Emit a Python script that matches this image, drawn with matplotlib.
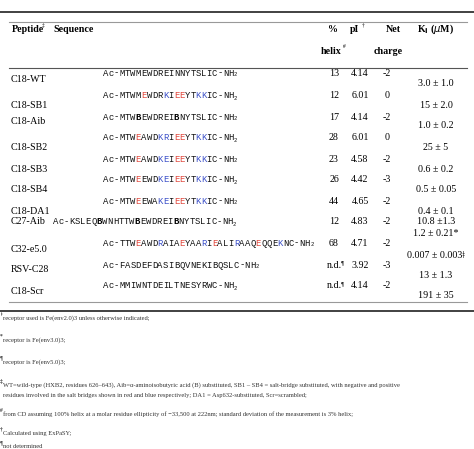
import matplotlib
matplotlib.use("Agg")
import matplotlib.pyplot as plt

peptides = ["C18-WT", "C18-SB1", "C18-Aib", "C18-SB2", "C18-SB3", "C18-SB4",
            "C18-DA1", "C27-Aib", "C32-e5.0", "RSV-C28", "C18-Scr"]
peptide_y = [79, 106, 121, 147, 169, 190, 211, 222, 249, 270, 291]
# [x]=red, {x}=blue, <x>=bold
sequences = [
    "Ac-MTWMEWDREINNYTSLIC-NH",
    "Ac-MTWM[E]WDR{K}I[EE]YT{KK}IC-NH",
    "Ac-MTW<B>EWDREI<B>NYTSLIC-NH",
    "Ac-MTW[E]AWD{KR}I[EE]YT{KK}IC-NH",
    "Ac-MTW[E]AWD{KE}I[EE]YT{KK}IC-NH",
    "Ac-MTW[E]EWD{KE}I[EE]YT{KK}IC-NH",
    "Ac-MTW[E]EWA{KE}I[EE]YT{KK}IC-NH",
    "Ac-KSLEQ<B>WNHTTW<B>EWDREI<B>NYTSLIC-NH",
    "Ac-TTW[E]AWD{R}AIA[E]YAA{R}I[E]ALI{R}AAQ[E]QQE{K}NC-NH",
    "Ac-FASDEFDASIBQVNEKIBQSLC-NH",
    "Ac-MMIWNTDEILTNESYRWC-NH",
]
seq_x = [103, 103, 103, 103, 103, 103, 103, 53, 103, 103, 103]
seq_y = [73, 96, 117, 138, 159, 180, 201, 222, 243, 265, 286]
helix = ["13", "12", "17", "28", "23", "26", "44", "12", "68", "n.d.", "n.d."]
pI = ["4.14", "6.01", "4.14", "6.01", "4.58", "4.42", "4.65", "4.83", "4.71", "3.92", "4.14"]
charge = ["-2", "0", "-2", "0", "-2", "-3", "-2", "-2", "-2", "-3", "-2"]
ki = ["3.0 ± 1.0", "15 ± 2.0", "1.0 ± 0.2", "25 ± 5", "0.6 ± 0.2", "0.5 ± 0.05",
      "0.4 ± 0.1", "10.8 ±1.3", "1.2 ± 0.21*", "0.007 ± 0.003ǂ", "13 ± 1.3", "191 ± 35"]
ki_y = [83, 105, 126, 147, 169, 190, 211, 222, 233, 255, 276, 296]
footnotes = [
    (318, "receptor used is Fe(env2.0)3 unless otherwise indicated;"),
    (340, "receptor is Fe(env3.0)3;"),
    (362, "receptor is Fe(env5.0)3;"),
    (385, "WT=wild-type (HXB2, residues 626–643), Aib=α-aminoisobutyric acid (B) substituted, SB1 – SB4 = salt-bridge substituted, with negative and positive"),
    (396, "residues involved in the salt bridges shown in red and blue respectively; DA1 = Asp632-substituted, Scr=scrambled;"),
    (414, "from CD assuming 100% helix at a molar residue ellipticity of −33,500 at 222nm; standard deviation of the measurement is 3% helix;"),
    (434, "Calculated using ExPaSY;"),
    (447, "not determined"),
]
foot_marks = ["ǂ", "*", "¶", "‡", "", "#", "†", "¶"]

fig = plt.figure(figsize=(4.74, 4.49), dpi=100)
ax = fig.add_axes([0, 0, 1, 1])
ax.set_xlim(0, 474); ax.set_ylim(449, 0); ax.axis("off")

serif = "Liberation Serif"
mono = "Liberation Mono"
fs = 7.2

ax.plot([0, 474], [12, 12], color="#333", lw=1.3)
ax.plot([9, 467], [22, 22], color="#999", lw=0.8)
ax.plot([9, 467], [68, 68], color="#555", lw=0.8)
ax.plot([9, 467], [302, 302], color="#999", lw=0.8)
ax.plot([0, 474], [311, 311], color="#333", lw=1.3)

hk = dict(fontfamily=serif, fontsize=fs, fontweight="bold", va="center")
ax.text(12, 29, "Peptide", ha="left", **hk)
ax.text(41.5, 26, "‡", fontfamily=serif, fontsize=4, va="center")
ax.text(53, 29, "Sequence", ha="left", **hk)
ax.text(333, 29, "%", ha="center", **hk)
ax.text(331, 51, "helix", ha="center", **hk)
ax.text(343, 47, "#", fontfamily=serif, fontsize=4, va="center")
ax.text(355, 29, "pI", ha="center", **hk)
ax.text(362, 26, "†", fontfamily=serif, fontsize=4, va="center")
ax.text(393, 29, "Net", ha="center", **hk)
ax.text(388, 51, "charge", ha="center", **hk)
ax.text(436, 29, "K$_\\mathbf{i}$ ($\\mu$M)", ha="center", **hk)

for name, y in zip(peptides, peptide_y):
    ax.text(11, y, name, fontfamily=serif, fontsize=fs, va="center")

cw = 5.45
for s, x0, y in zip(sequences, seq_x, seq_y):
    color, weight, i = "#111", "normal", 0
    for ch in s:
        if ch == "[": color = "#e0453a"; continue
        if ch == "{": color = "#3a4fc8"; continue
        if ch == "<": weight = "bold"; color = "black"; continue
        if ch in "]}>": color, weight = "#111", "normal"; continue
        ax.text(x0 + i * cw, y, ch, fontfamily=mono, fontsize=6.4, color=color,
                fontweight=weight, va="center", ha="left")
        i += 1
    ax.text(x0 + i * cw, y + 2, "2", fontfamily=mono, fontsize=4, color="#111", va="center")

for h, p, c, y in zip(helix, pI, charge, seq_y):
    ax.text(334, y, h, fontfamily=serif, fontsize=fs, va="center", ha="center")
    if h == "n.d.":
        ax.text(341, y - 2, "¶", fontfamily=serif, fontsize=4, va="center", fontweight="bold")
    ax.text(360, y, p, fontfamily=serif, fontsize=fs, va="center", ha="center")
    ax.text(387, y, c, fontfamily=serif, fontsize=fs, va="center", ha="center")

for k, y in zip(ki, ki_y):
    ax.text(436, y, k, fontfamily=serif, fontsize=fs, va="center", ha="center")

for (y, t), m in zip(footnotes, foot_marks):
    ax.text(3, y, t, fontfamily=serif, fontsize=4.7, va="center", ha="left", color="#333")
    if m:
        ax.text(0, y - 4, m, fontfamily=serif, fontsize=4, va="center", ha="left", color="#333", fontweight="bold")

fig.savefig("out.png", dpi=100)
